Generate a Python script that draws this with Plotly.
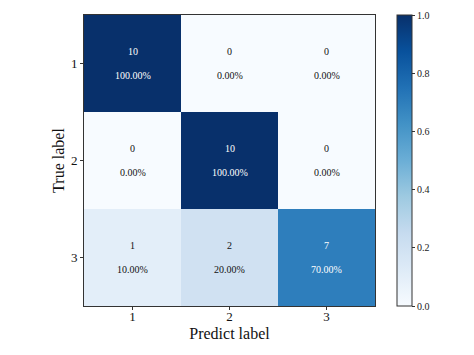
import plotly.graph_objects as go
import plotly.colors as pc

labels = ["1", "2", "3"]
counts = [
    [10, 0, 0],
    [0, 10, 0],
    [1, 2, 7],
]
x_title = "Predict label"
y_title = "True label"
cbar_ticks = [0.0, 0.2, 0.4, 0.6, 0.8, 1.0]

row_sums = [sum(r) for r in counts]
ratios = [[c / s for c in r] for r, s in zip(counts, row_sums)]
idx = list(range(len(labels)))

FONT = "Liberation Serif"
blues = pc.sequential.Blues

fig = go.Figure()
fig.add_trace(go.Heatmap(
    z=ratios, x=idx, y=idx,
    colorscale=blues, zmin=0, zmax=1,
    showscale=True, xgap=0, ygap=0,
    hoverinfo="skip",
    colorbar=dict(
        x=1.0756, xanchor="left", xref="paper",
        y=0.5, yanchor="middle", len=1.0, lenmode="fraction",
        thickness=15, thicknessmode="pixels",
        outlinewidth=1, outlinecolor="#333333",
        tickvals=cbar_ticks, ticktext=[f"{v:.1f}" for v in cbar_ticks],
        ticks="outside", ticklen=3, tickwidth=1, tickcolor="#333333",
        tickfont=dict(family=FONT, size=10, color="#222222"),
        xpad=0, ypad=0,
    ),
))

for i, row in enumerate(counts):
    for j, c in enumerate(row):
        r = ratios[i][j]
        col = "white" if r > 0.5 else "#111111"
        fig.add_annotation(x=j, y=i, text=str(c), showarrow=False,
                           yshift=12, font=dict(family=FONT, size=10, color=col))
        fig.add_annotation(x=j, y=i, text=f"{r*100:.2f}%", showarrow=False,
                           yshift=-12, font=dict(family=FONT, size=10, color=col))

axis_common = dict(
    showline=True, linecolor="#333333", linewidth=1, mirror=True,
    ticks="outside", ticklen=3, tickcolor="#333333",
    tickfont=dict(family=FONT, size=13, color="#111111"),
    showgrid=False, zeroline=False,
    tickvals=idx, ticktext=labels,
)
fig.update_xaxes(title=dict(text=x_title, font=dict(family=FONT, size=16, color="#111111"), standoff=5),
                 ticklabelstandoff=-5,
                 range=[-0.5, len(labels) - 0.5], **axis_common)
fig.update_yaxes(title=dict(text=y_title, font=dict(family=FONT, size=16, color="#111111"), standoff=2),
                 range=[len(labels) - 0.5, -0.5], **axis_common)

fig.update_layout(
    width=466, height=347,
    margin=dict(l=76, r=99, t=7, b=49),
    paper_bgcolor="white", plot_bgcolor="white",
    showlegend=False,
)

fig.write_html("out.html")
